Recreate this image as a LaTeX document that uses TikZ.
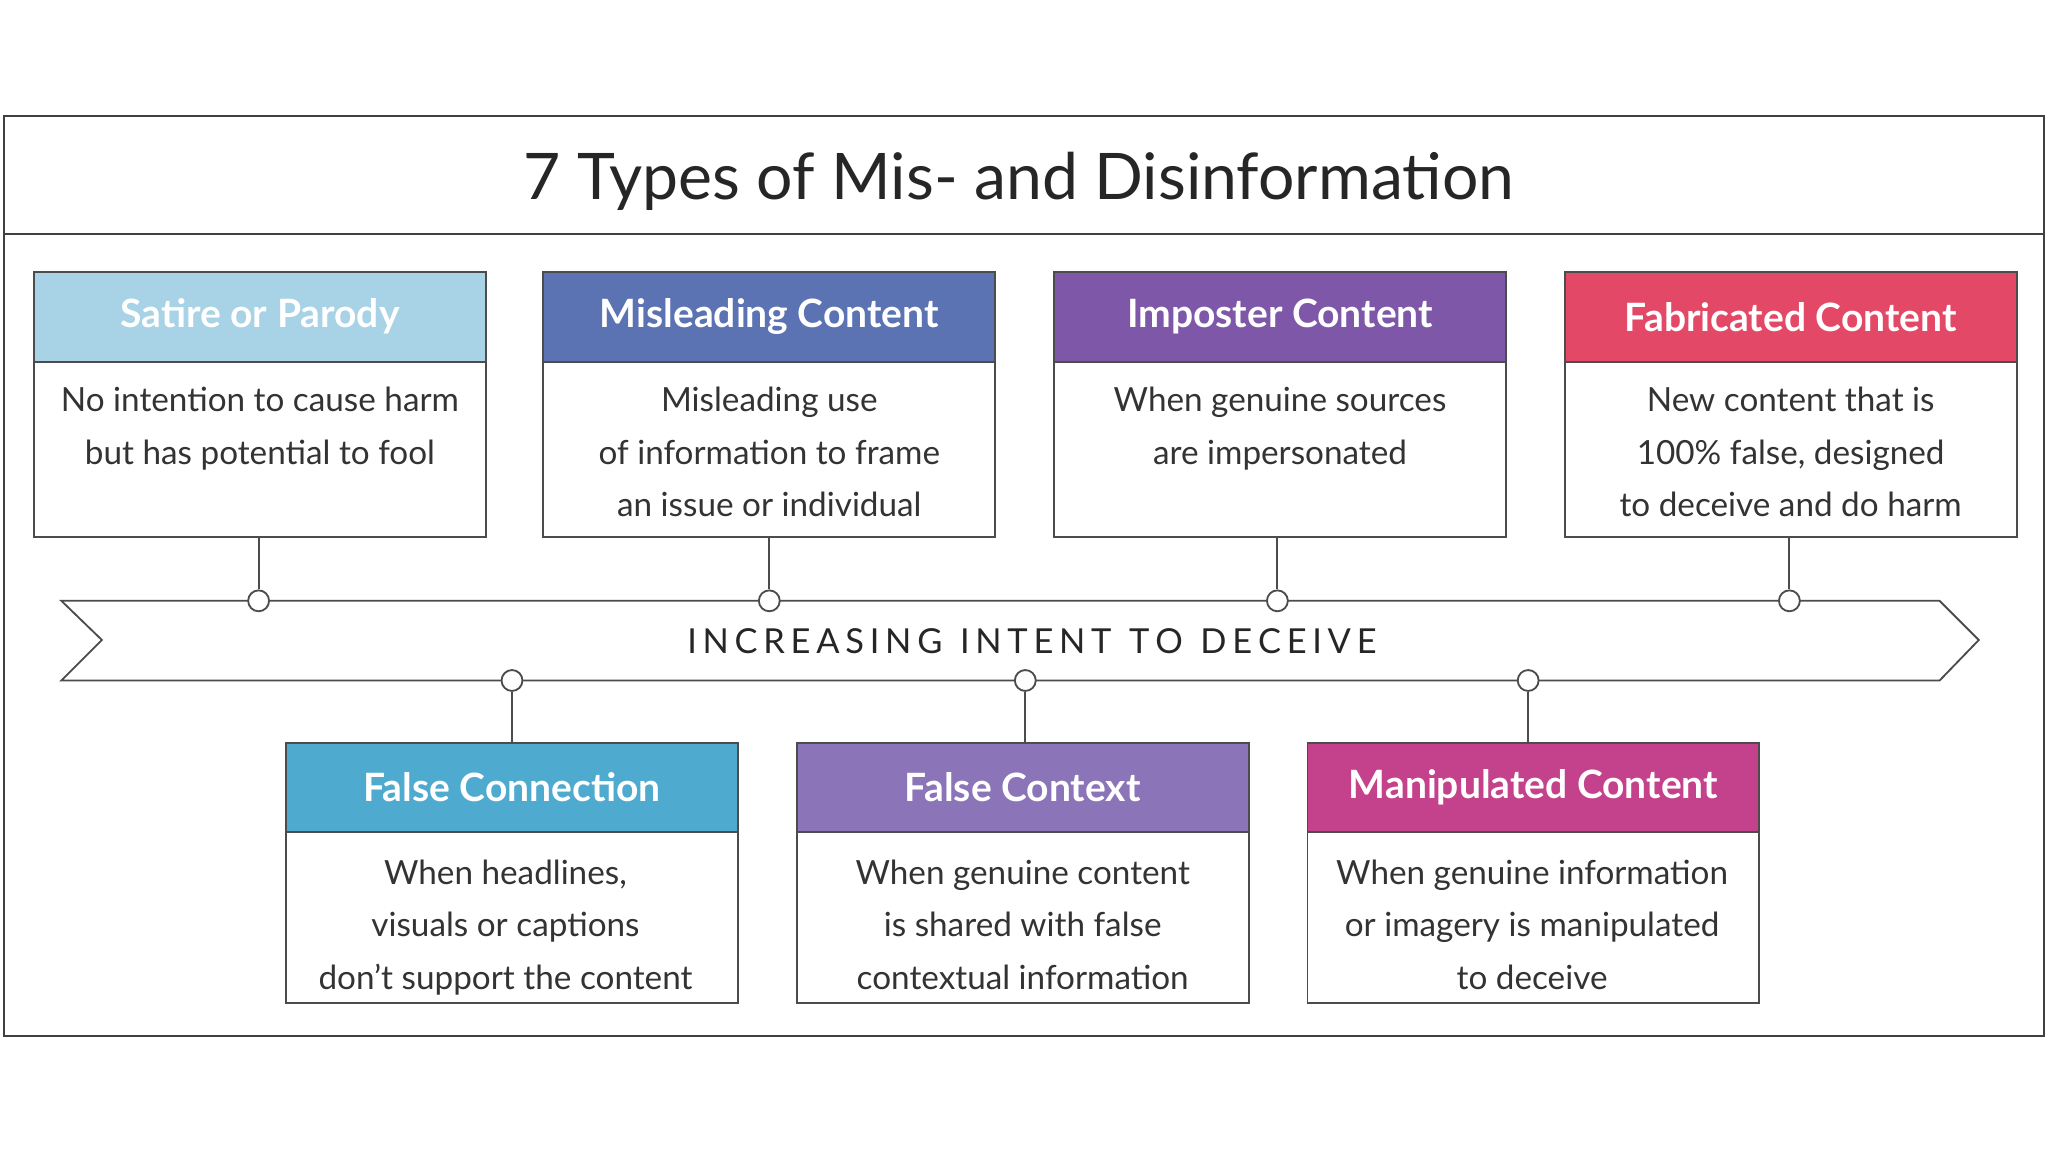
\documentclass[tikz,border=0pt]{standalone}
\usepackage{fontspec}
\setmainfont{Lato}
\begin{document}
\begin{tikzpicture}[x=0.02cm,y=-0.02cm,
  frame/.style={draw=black!75,line width=0.8pt},
  body/.style={draw=black!70,fill=white,line width=0.8pt},
  head/.style={font=\fontsize{17}{20}\selectfont\bfseries,text=white},
  txt/.style={font=\fontsize{14.5}{23}\selectfont,text=black!80,align=center},
  stem/.style={draw=black!70,line width=0.8pt},
  dot/.style={circle,draw=black!70,fill=white,line width=0.8pt,inner sep=0pt,minimum size=0.32cm}]
\useasboundingbox (0,0) rectangle (1568,882);
\fill[white] (0,0) rectangle (1568,882);
\draw[frame] (3,89) rectangle (1565,793);
\draw[frame] (3,179) -- (1565,179);
\node[font=\fontsize{28}{32}\selectfont,text=black!85] (title) at (780,139) {7 Types of Mis- and Disinformation};
% arrow
\draw[stem,fill=white] (47,460) -- (1485,460) -- (1515,490) -- (1485,521) -- (47,521) -- (78,490) -- cycle;
\node[font=\fontsize{15}{18}\selectfont,text=black!85] (arrowlbl) at (790,491) {I\,N\,C\,R\,E\,A\,S\,I\,N\,G\ \ I\,N\,T\,E\,N\,T\ \ T\,O\ \ D\,E\,C\,E\,I\,V\,E};
% box macro
\newcommand{\cbox}[7]{% name, x1, y1, y2(header bottom), y3(bottom), color, title
  \fill[#6] (#2,#3) rectangle (#2+346,#4);
  \draw[body] (#2,#4) rectangle (#2+346,#5);
  \draw[black!70,line width=0.8pt] (#2,#3) rectangle (#2+346,#5);
  \node[head] (#1h) at (#2+173,{(#3+#4)/2}) {#7};
}
\definecolor{c1}{HTML}{A8D3E6}\definecolor{c2}{HTML}{5B72B3}
\definecolor{c3}{HTML}{7F57A8}\definecolor{c4}{HTML}{E44867}
\definecolor{c5}{HTML}{4FAACF}\definecolor{c6}{HTML}{8B74B8}
\definecolor{c7}{HTML}{C4418C}
\cbox{a}{26}{208}{277}{411}{c1}{Satire or Parody}
\cbox{b}{416}{208}{277}{411}{c2}{Misleading Content}
\cbox{c}{807}{208}{277}{411}{c3}{Imposter Content}
\cbox{d}{1198}{208}{277}{411}{c4}{Fabricated Content}
\cbox{e}{219}{569}{637}{768}{c5}{False Connection}
\cbox{f}{610}{569}{637}{768}{c6}{False Context}
\cbox{g}{1001}{569}{637}{768}{c7}{Manipulated Content}
\node[txt,anchor=north] (at) at (199,290) {No intention to cause harm\\but has potential to fool};
\node[txt,anchor=north] (bt) at (589,290) {Misleading use\\of information to frame\\an issue or individual};
\node[txt,anchor=north] (ct) at (980,290) {When genuine sources\\are impersonated};
\node[txt,anchor=north] (dt) at (1371,290) {New content that is\\100\% false, designed\\to deceive and do harm};
\node[txt,anchor=north] (et) at (387,652) {When headlines,\\visuals or captions\\don’t support the content};
\node[txt,anchor=north] (ft) at (783,652) {When genuine content\\is shared with false\\contextual information};
\node[txt,anchor=north] (gt) at (1173,652) {When genuine information\\or imagery is manipulated\\to deceive};
% stems and dots
\foreach \n/\x in {p1/198,p2/589,p3/978,p4/1370}{
  \coordinate (\n s) at (\x,411);
  \node[dot] (\n) at (\x,460) {};
  \draw[stem] (\n s) -- (\n);
}
\foreach \n/\x in {q1/392,q2/785,q3/1170}{
  \coordinate (\n s) at (\x,569);
  \node[dot] (\n) at (\x,521) {};
  \draw[stem] (\n s) -- (\n);
}
\end{tikzpicture}
\end{document}
